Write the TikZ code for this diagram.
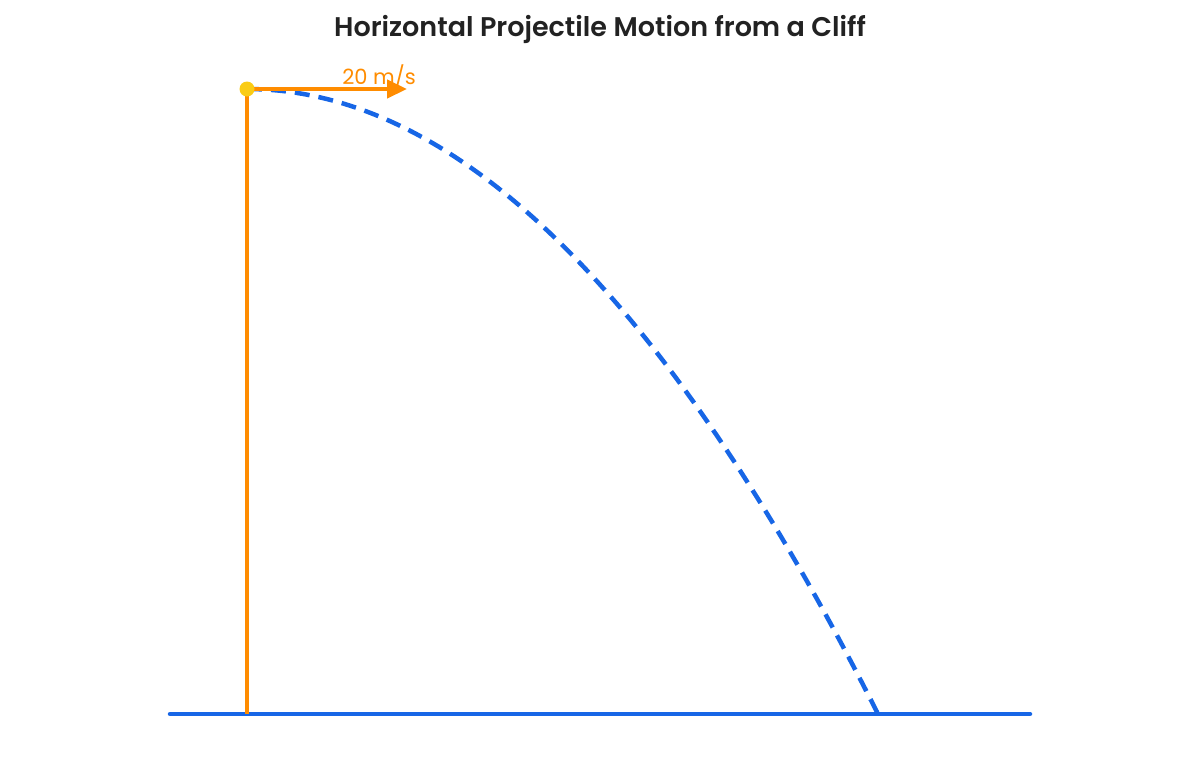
\documentclass[tikz,border=0pt]{standalone}
\usepackage{fontspec}
\setmainfont{Poppins}[BoldFont={* SemiBold}]
\usetikzlibrary{arrows.meta}
\definecolor{cliff}{HTML}{FF8C00}
\definecolor{path}{HTML}{1766E6}
\definecolor{ball}{HTML}{FACC15}
\definecolor{ink}{HTML}{222222}
\begin{document}
\begin{tikzpicture}[x=1pt,y=-1pt,
  cliffline/.style={cliff,line width=4.5pt},
  groundline/.style={path,line width=4.5pt,line cap=round},
  traj/.style={path,line width=4.5pt,dash pattern=on 15pt off 9pt},
  velarrow/.style={cliff,line width=4.5pt,-{Triangle[length=20pt,width=18pt]}},
  lbl/.style={text=cliff,font=\fontsize{21}{24}\selectfont,inner sep=0pt}]
\useasboundingbox (0,0) rectangle (1200,763);
\node[font=\fontsize{27}{32}\selectfont\bfseries,text=ink,inner sep=0pt] (title) at (600,29) {Horizontal Projectile Motion from a Cliff};
\coordinate (top) at (247,89);
\coordinate (base) at (247,714);
\coordinate (gl) at (170,714);
\coordinate (gr) at (1030,714);
\coordinate (vtip) at (407,89);
\draw[groundline] (gl) -- (gr);
\draw[cliffline] (top) -- (base);
\draw[traj] plot[domain=0:1,samples=80,variable=\t] ({247+631*\t},{89+625*\t*\t});
\draw[velarrow] (top) -- (vtip);
\node[lbl] (vlabel) at (379,76) {20 m/s};
\node[circle,fill=ball,minimum size=15pt,inner sep=0pt] (ballnode) at (top) {};
\end{tikzpicture}
\end{document}
